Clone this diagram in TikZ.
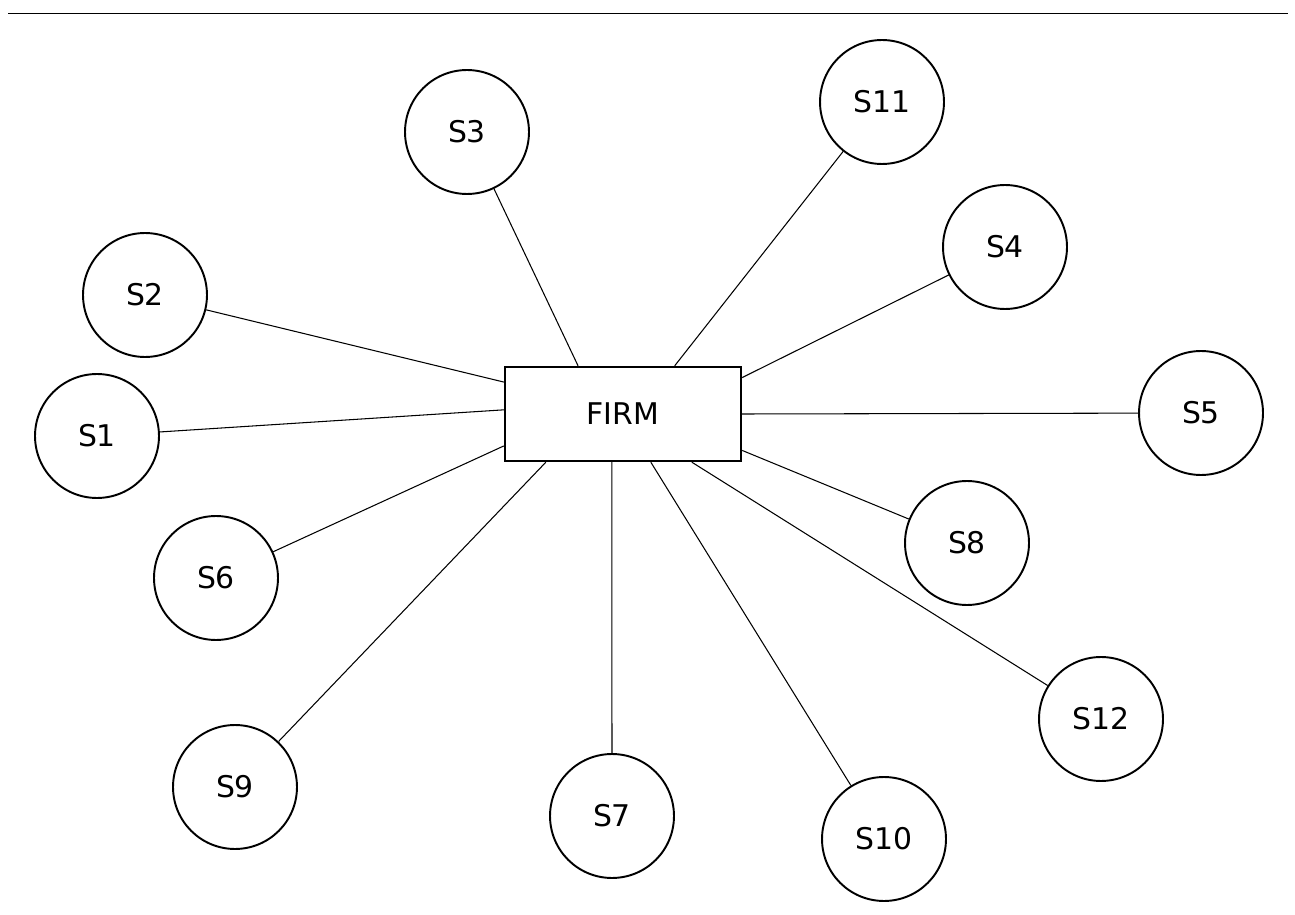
\documentclass[tikz,border=0pt]{standalone}
\usepackage{fontspec}
\setmainfont{DejaVu Sans}
\begin{document}
\begin{tikzpicture}[x=0.02cm, y=-0.02cm,
    supplier/.style={draw, circle, line width=1.1pt, minimum size=2.48cm, inner sep=0pt, font=\fontsize{17}{20}\selectfont},
    tie/.style={line width=0.6pt}]
  \useasboundingbox (0,0) rectangle (1295,915);
  \draw[line width=1.1pt] (8,13.5) -- (1288,13.5);

  \node[draw, line width=1.4pt, minimum width=4.72cm, minimum height=1.88cm, font=\fontsize{17}{20}\selectfont] (firm) at (623,414) {FIRM};

  \node[supplier] (s1) at (97,436) {S1};
  \node[supplier] (s2) at (145,295) {S2};
  \node[supplier] (s3) at (467,132) {S3};
  \node[supplier] (s4) at (1005,247) {S4};
  \node[supplier] (s5) at (1201,413) {S5};
  \node[supplier] (s6) at (216,578) {S6};
  \node[supplier] (s7) at (612,816) {S7};
  \node[supplier] (s8) at (967,543) {S8};
  \node[supplier] (s9) at (235,787) {S9};
  \node[supplier] (s10) at (884,839) {S10};
  \node[supplier] (s11) at (882,102) {S11};
  \node[supplier] (s12) at (1101,719) {S12};

  \draw[tie] (s1) -- (firm.178.5);
  \draw[tie] (s2) -- (firm.165.3);
  \draw[tie] (s3) -- (firm.133.8);
  \draw[tie] (s4) -- (firm.17);
  \draw[tie] (s5) -- (firm.0);
  \draw[tie] (s6) -- (firm.195.6);
  \draw[tie] (s7) -- (firm.-103.2);
  \draw[tie] (s8) -- (firm.-17.4);
  \draw[tie] (s9) -- (firm.-148.3);
  \draw[tie] (s10) -- (firm.-60);
  \draw[tie] (s11) -- (firm.43.2);
  \draw[tie] (s12) -- (firm.-35.5);
\end{tikzpicture}
\end{document}
